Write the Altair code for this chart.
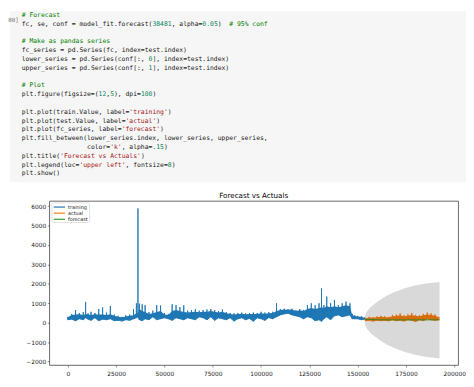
import re
import altair as alt
import pandas as pd

# ---------------- code cell text ----------------
code_lines = [
    "# Forecast",
    "fc, se, conf = model_fit.forecast(38481, alpha=0.05)  # 95% conf",
    "",
    "# Make as pandas series",
    "fc_series = pd.Series(fc, index=test.index)",
    "lower_series = pd.Series(conf[:, 0], index=test.index)",
    "upper_series = pd.Series(conf[:, 1], index=test.index)",
    "",
    "# Plot",
    "plt.figure(figsize=(12,5), dpi=100)",
    "",
    "plt.plot(train.Value, label='training')",
    "plt.plot(test.Value, label='actual')",
    "plt.plot(fc_series, label='forecast')",
    "plt.fill_between(lower_series.index, lower_series, upper_series,",
    "                 color='k', alpha=.15)",
    "plt.title('Forecast vs Actuals')",
    "plt.legend(loc='upper left', fontsize=8)",
    "plt.show()",
]
cell_prompt = "80]"
token_kinds = ["code", "comment", "string", "number"]
token_colors = ["#212121", "#008000", "#a31515", "#098658"]

# ---------------- chart data ----------------
chart_title = "Forecast vs Actuals"
series_names = ["training", "actual", "forecast"]
series_colors = ["#1f77b4", "#ff7f0e", "#2ca02c"]

# training series: per-sample low / usual-top / spike-high
train_x = [0, 2000, 4000, 6000, 8000, 9200, 10500, 12000, 14000, 16000,
           18000, 20000, 22000, 24000, 26000, 28000, 30000, 32000, 34000, 35500,
           36300, 37000, 38500, 40000, 42000, 44000, 46000, 48000, 50000, 52000,
           54000, 56000, 58000, 60000, 62000, 64000, 66000, 68000, 70000, 72000,
           74000, 76000, 78000, 80000, 82000, 84000, 86000, 88000, 90000, 92000,
           94000, 96000, 98000, 100000, 102000, 104000, 106000, 108000, 110000, 112000,
           114000, 116000, 118000, 120000, 122000, 124000, 126000, 128000, 130000, 131300,
           132500, 134000, 136000, 138000, 140000, 142000, 144000, 146000, 147200, 148500,
           150000, 152000, 153500]
train_lo = [150, 180, 100, 200, 150, 250, 180, 120, 250, 100,
            180, 150, 200, 100, 120, 80, 150, 120, 200, 250,
            300, 150, 100, 200, 150, 300, 150, 200, 250, 200,
            120, 250, 200, 150, 250, 200, 150, 300, 250, 150,
            300, 120, 250, 200, 150, 250, 80, 200, 250, 150,
            220, 70, 250, 200, 120, 260, 200, 300, 400, 450,
            480, 400, 350, 300, 200, 300, 250, 100, 150, 70,
            200, 300, 150, 350, 400, 300, 350, 400, 200, 200,
            200, 150, 180]
train_top = [280, 400, 420, 430, 400, 450, 420, 400, 430, 420,
             420, 400, 430, 350, 300, 280, 320, 350, 380, 480,
             500, 700, 600, 550, 450, 480, 550, 600, 420, 400,
             600, 650, 600, 550, 520, 550, 560, 540, 560, 560,
             600, 560, 520, 560, 480, 450, 420, 440, 460, 430,
             450, 450, 440, 480, 460, 480, 500, 600, 650, 680,
             670, 680, 600, 640, 600, 700, 750, 700, 750, 800,
             750, 850, 800, 850, 800, 850, 900, 850, 380, 340,
             320, 300, 250]
train_hi = [300, 450, 650, 500, 550, 1070, 480, 560, 500, 700,
            780, 520, 860, 420, 350, 300, 380, 420, 700, 1000,
            5880, 980, 950, 900, 550, 620, 900, 880, 500, 450,
            950, 900, 800, 900, 620, 650, 700, 620, 650, 680,
            700, 650, 600, 680, 550, 500, 480, 500, 520, 480,
            500, 520, 500, 560, 520, 540, 560, 1000, 700, 720,
            700, 720, 640, 700, 650, 900, 1000, 900, 1000, 1760,
            900, 1340, 1000, 1170, 900, 1000, 1085, 1000, 450, 380,
            350, 320, 260]

# actual (test) series
act_x = [154000, 156000, 158000, 160000, 162000, 164000, 166000, 168000, 170000, 172000,
         174000, 176000, 178000, 180000, 182000, 184000, 186000, 188000, 190000, 192000]
act_lo = [100, 120, 80, 130, 100, 120, 90, 150, 100, 130,
          80, 150, 120, 60, 150, 100, 200, 150, 120, 150]
act_top = [220, 260, 250, 280, 300, 290, 270, 330, 340, 380,
           320, 360, 400, 340, 330, 380, 420, 400, 360, 280]
act_hi = [250, 300, 280, 320, 350, 330, 300, 400, 420, 480,
          380, 430, 500, 400, 380, 450, 520, 480, 420, 300]

# forecast
fc_x = [153500, 160000, 170000, 180000, 192400]
fc_y = [180, 150, 145, 145, 145]

# 95% confidence band
band_x = [153500, 154000, 155000, 156500, 158500, 161500, 165000, 169000, 174000, 179000, 185000, 192400]
band_hi = [130, 420, 600, 780, 950, 1170, 1380, 1570, 1760, 1900, 2020, 2100]
band_lo = [130, -160, -340, -520, -690, -910, -1120, -1310, -1500, -1640, -1760, -1840]

x_ticks = [0, 25000, 50000, 75000, 100000, 125000, 150000, 175000, 200000]
y_ticks = [-2000, -1000, 0, 1000, 2000, 3000, 4000, 5000, 6000]
x_domain = [-9600, 202000]
y_domain = [-2180, 6270]

# ---------------- tables ----------------
tok_re = re.compile(r"(#.*)|('[^']*')|((?<![\w.])\d+(?:\.\d+)?|(?<!\w)\.\d+)")
tok_rows = []
for ln, line in enumerate(code_lines):
    kinds = ["code"] * len(line)
    for m in tok_re.finditer(line):
        k = "comment" if m.group(1) else ("string" if m.group(2) else "number")
        for j in range(m.start(), m.end()):
            kinds[j] = k
    j = 0
    while j < len(line):
        if line[j] == " ":
            j += 1
            continue
        s = j
        while j < len(line) and line[j] != " " and kinds[j] == kinds[s]:
            j += 1
        tok_rows.append({"line": ln, "col": s, "text": line[s:j], "kind": kinds[s]})
tok_df = pd.DataFrame(tok_rows)

line_rows = []
idx = 0
for name, xs, los, his in [("training", train_x, train_lo, train_hi),
                           ("actual", act_x, act_lo, act_hi)]:
    for x, lo, hi in zip(xs, los, his):
        for v in (lo, hi, lo):
            line_rows.append({"series": name, "x": x, "y": v, "i": idx})
            idx += 1
for x, y in zip(fc_x, fc_y):
    line_rows.append({"series": "forecast", "x": x, "y": y, "i": idx})
    idx += 1
line_df = pd.DataFrame(line_rows)

train_env = pd.DataFrame({"x": train_x, "lo": train_lo, "top": train_top})
act_env = pd.DataFrame({"x": act_x, "lo": act_lo, "top": act_top})
band_df = pd.DataFrame({"x": band_x, "lo": band_lo, "hi": band_hi})
legend_df = pd.DataFrame({"series": series_names})
one = pd.DataFrame({"a": [0]})

# ---------------- code cell layer ----------------
code_bg = alt.Chart(one).mark_rect(color="#f6f6f6").encode(
    x=alt.value(-40), x2=alt.value(424), y=alt.value(-193), y2=alt.value(-19)
)
prompt = alt.Chart(one).mark_text(
    text=cell_prompt, align="right", baseline="middle",
    font="DejaVu Sans Mono", fontSize=6, color="#757575"
).encode(x=alt.value(-31), y=alt.value(-184))
tokens = alt.Chart(tok_df).mark_text(
    align="left", baseline="middle", font="DejaVu Sans Mono", fontSize=6.5
).encode(
    x=alt.X("col:Q", scale=alt.Scale(domain=[0, 100], range=[-28, 363]), axis=None),
    y=alt.Y("line:Q", scale=alt.Scale(domain=[0, 18], range=[-189, -28]), axis=None),
    color=alt.Color("kind:N", scale=alt.Scale(domain=token_kinds, range=token_colors), legend=None),
    text="text:N",
)
title_mark = alt.Chart(one).mark_text(
    text=chart_title, align="center", baseline="alphabetic",
    font="DejaVu Sans", fontSize=7.3, color="black"
).encode(x=alt.value(208), y=alt.value(-3))
code_layer = alt.layer(code_bg, tokens, prompt, title_mark)

# ---------------- plot layer ----------------
xscale = alt.Scale(domain=x_domain, nice=False, zero=False)
yscale = alt.Scale(domain=y_domain, nice=False, zero=False)
xaxis = alt.Axis(values=x_ticks, format="d", title=None, orient="bottom", labelPadding=3.5)
yaxis = alt.Axis(values=y_ticks, format="d", title=None, orient="left", labelPadding=1.7)

train_area = alt.Chart(train_env).mark_area(color=series_colors[0], opacity=1).encode(
    x=alt.X("x:Q", scale=xscale, axis=xaxis),
    y=alt.Y("lo:Q", scale=yscale, axis=yaxis),
    y2="top:Q",
)
act_area = alt.Chart(act_env).mark_area(color=series_colors[1], opacity=1).encode(
    x=alt.X("x:Q", scale=xscale, axis=xaxis),
    y=alt.Y("lo:Q", scale=yscale, axis=yaxis),
    y2="top:Q",
)
lines = alt.Chart(line_df).mark_line(strokeWidth=0.9).encode(
    x=alt.X("x:Q", scale=xscale, axis=xaxis),
    y=alt.Y("y:Q", scale=yscale, axis=yaxis),
    color=alt.Color("series:N", scale=alt.Scale(domain=series_names, range=series_colors), legend=None),
    order="i:Q",
)
band = alt.Chart(band_df).mark_area(color="black", opacity=0.15).encode(
    x=alt.X("x:Q", scale=xscale, axis=xaxis),
    y=alt.Y("lo:Q", scale=yscale, axis=yaxis),
    y2="hi:Q",
)
plot_layer = alt.layer(train_area, act_area, lines, band)

# ---------------- legend (upper left, inside axes) ----------------
leg_y = alt.Y("series:N", scale=alt.Scale(type="point", domain=series_names, range=[6.3, 18.7], padding=0), axis=None)
leg_color = alt.Color("series:N", scale=alt.Scale(domain=series_names, range=series_colors), legend=None)
leg_box = alt.Chart(one).mark_rect(fill="white", stroke="#cccccc", strokeWidth=0.6, cornerRadius=1.5).encode(
    x=alt.value(2.7), x2=alt.value(41), y=alt.value(2), y2=alt.value(22)
)
leg_rules = alt.Chart(legend_df).mark_rule(strokeWidth=1.2).encode(
    x=alt.value(4.5), x2=alt.value(16), y=leg_y, color=leg_color
)
leg_text = alt.Chart(legend_df).mark_text(
    align="left", baseline="middle", font="DejaVu Sans", fontSize=5, color="#222"
).encode(x=alt.value(19), y=leg_y, text="series:N")
legend_layer = alt.layer(leg_box, leg_rules, leg_text)

chart = (
    alt.layer(code_layer, plot_layer, legend_layer)
    .resolve_scale(x="independent", y="independent", color="independent")
    .properties(width=416, height=167, padding=0)
    .configure_view(stroke="#444", strokeWidth=0.8)
    .configure_axis(domain=False, grid=False, labelFont="DejaVu Sans", labelFontSize=6,
                    labelColor="#222", tickColor="#444", tickSize=2, tickWidth=0.6)
)

chart.save("out.html", embed_options={"renderer": "svg", "actions": False})
